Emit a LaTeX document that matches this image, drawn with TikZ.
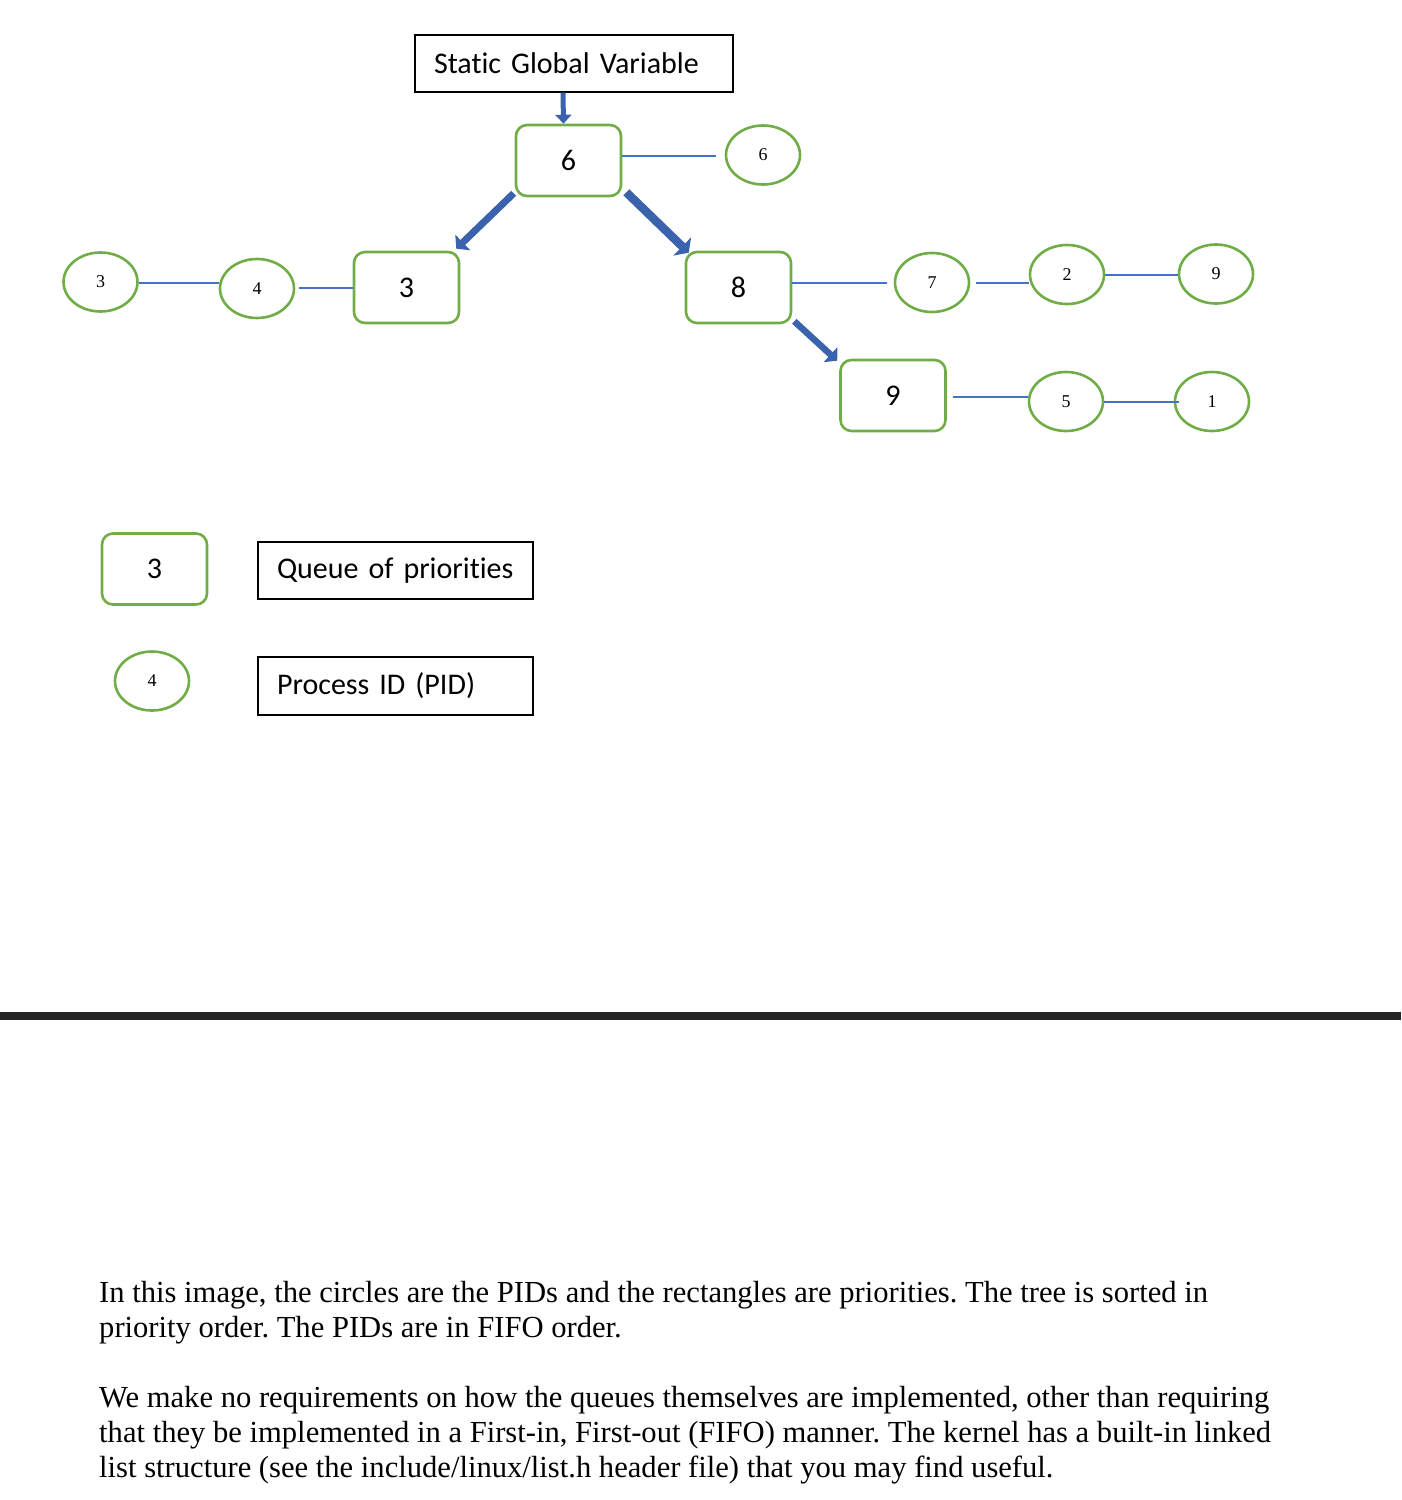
\documentclass[tikz,border=0pt]{standalone}
\usepackage{fontspec}
\setmainfont{Liberation Serif}
\newfontfamily\calibrifont[Ligatures={NoCommon}]{Carlito}
\usetikzlibrary{shapes.geometric,arrows.meta}
\definecolor{grn}{HTML}{70AD47}
\definecolor{lnblue}{HTML}{4472C4}
\definecolor{arrblue}{HTML}{3A62AD}
\definecolor{sepgray}{HTML}{262626}
\frenchspacing
\tikzset{
  prio/.style={draw=grn, line width=2.6pt, rounded corners=11pt, minimum width=105pt, minimum height=71pt, inner sep=0pt, font=\calibrifont\fontsize{30}{36}\selectfont},
  pid/.style={draw=grn, line width=2.6pt, ellipse, minimum width=74pt, minimum height=59pt, inner sep=0pt, font=\fontsize{18}{22}\selectfont},
  labelbox/.style={draw=black, line width=1.3pt, minimum height=57pt, text width=280pt, inner xsep=19pt, inner ysep=0pt, align=left, font=\calibrifont\fontsize{30}{36}\selectfont},
  link/.style={draw=lnblue, line width=1.3pt},
  blockarrow/.style={draw=arrblue, line width=#1, -{Triangle[width=2.6*#1+3pt, length=9pt]}},
  bodytext/.style={anchor=base west, inner sep=0pt, font=\frenchspacing\fontsize{30.6}{35}\selectfont}
}
\begin{document}
\begin{tikzpicture}[x=1pt,y=-1pt]
\useasboundingbox (0,0) rectangle (1401,1500);
% top label
\node[labelbox] (sgv) at (574,63.5) {Static Global Variable};
% priority boxes
\node[prio] (p6) at (568.5,160.5) {6};
\node[prio] (p3) at (406.5,287.5) {3};
\node[prio] (p8) at (738.5,287.5) {8};
\node[prio] (p9) at (893,395.5) {9};
% pid ellipses
\node[pid] (c6) at (763,155) {6};
\node[pid] (c3) at (100.5,282) {3};
\node[pid] (c4) at (257,288.5) {4};
\node[pid] (c7) at (932,282.5) {7};
\node[pid] (c2) at (1067,274.5) {2};
\node[pid] (c9) at (1216,274) {9};
\node[pid] (c5) at (1066,401.5) {5};
\node[pid] (c1) at (1212,401.5) {1};
% arrows
\draw[blockarrow=5pt] ([xshift=-11pt]sgv.south) -- ([xshift=-5pt]p6.north);
\draw[blockarrow=7pt] ([xshift=-1pt,yshift=4pt]p6.south west) -- ([xshift=-4pt,yshift=2pt]p3.north east);
\draw[blockarrow=8.5pt] ([xshift=4pt,yshift=5pt]p6.south east) -- ([xshift=4pt,yshift=-2pt]p8.north west);
\draw[blockarrow=6.5pt] ([xshift=2pt,yshift=3pt]p8.south east) -- ([xshift=-2pt,yshift=-2pt]p9.north west);
% links
\draw[link] ([yshift=4.5pt]p6.east) -- ([xshift=-9pt,yshift=-1pt]c6.west);
\draw[link] ([yshift=-1pt]c3.east) -- ([yshift=5.5pt]c4.west);
\draw[link] ([xshift=4pt,yshift=0.5pt]c4.east) -- ([yshift=-0.5pt]p3.west);
\draw[link] ([yshift=4.5pt]p8.east) -- ([xshift=-7pt,yshift=-0.5pt]c7.west);
\draw[link] ([xshift=6pt,yshift=-0.5pt]c7.east) -- ([yshift=-8.5pt]c2.west);
\draw[link] ([yshift=-0.5pt]c2.east) -- ([yshift=-1pt]c9.west);
\draw[link] ([xshift=6pt,yshift=-1.5pt]p9.east) -- ([yshift=4.5pt]c5.west);
\draw[link] ([yshift=-0.5pt]c5.east) -- ([xshift=5pt,yshift=-0.5pt]c1.west);
% legend
\node[prio] (lp) at (154.5,569) {3};
\node[labelbox, text width=237pt] (lq) at (395.5,570.5) {Queue of priorities};
\node[pid] (lc) at (152,681) {4};
\node[labelbox, text width=237pt, minimum height=58pt] (lpid) at (395.5,686) {Process ID (PID)};
% separator
\fill[sepgray] (0,1012) rectangle (1401,1020);
% body text
\node[bodytext] (t1) at (99,1302) {In this image, the circles are the PIDs and the rectangles are priorities. The tree is sorted in};
\node[bodytext] (t2) at (99,1337) {priority order. The PIDs are in FIFO order.};
\node[bodytext] (t3) at (99,1407) {We make no requirements on how the queues themselves are implemented, other than requiring};
\node[bodytext] (t4) at (99,1442) {that they be implemented in a First-in, First-out (FIFO) manner. The kernel has a built-in linked};
\node[bodytext] (t5) at (99,1477) {list structure (see the include/linux/list.h header file) that you may find useful.};
\end{tikzpicture}
\end{document}
